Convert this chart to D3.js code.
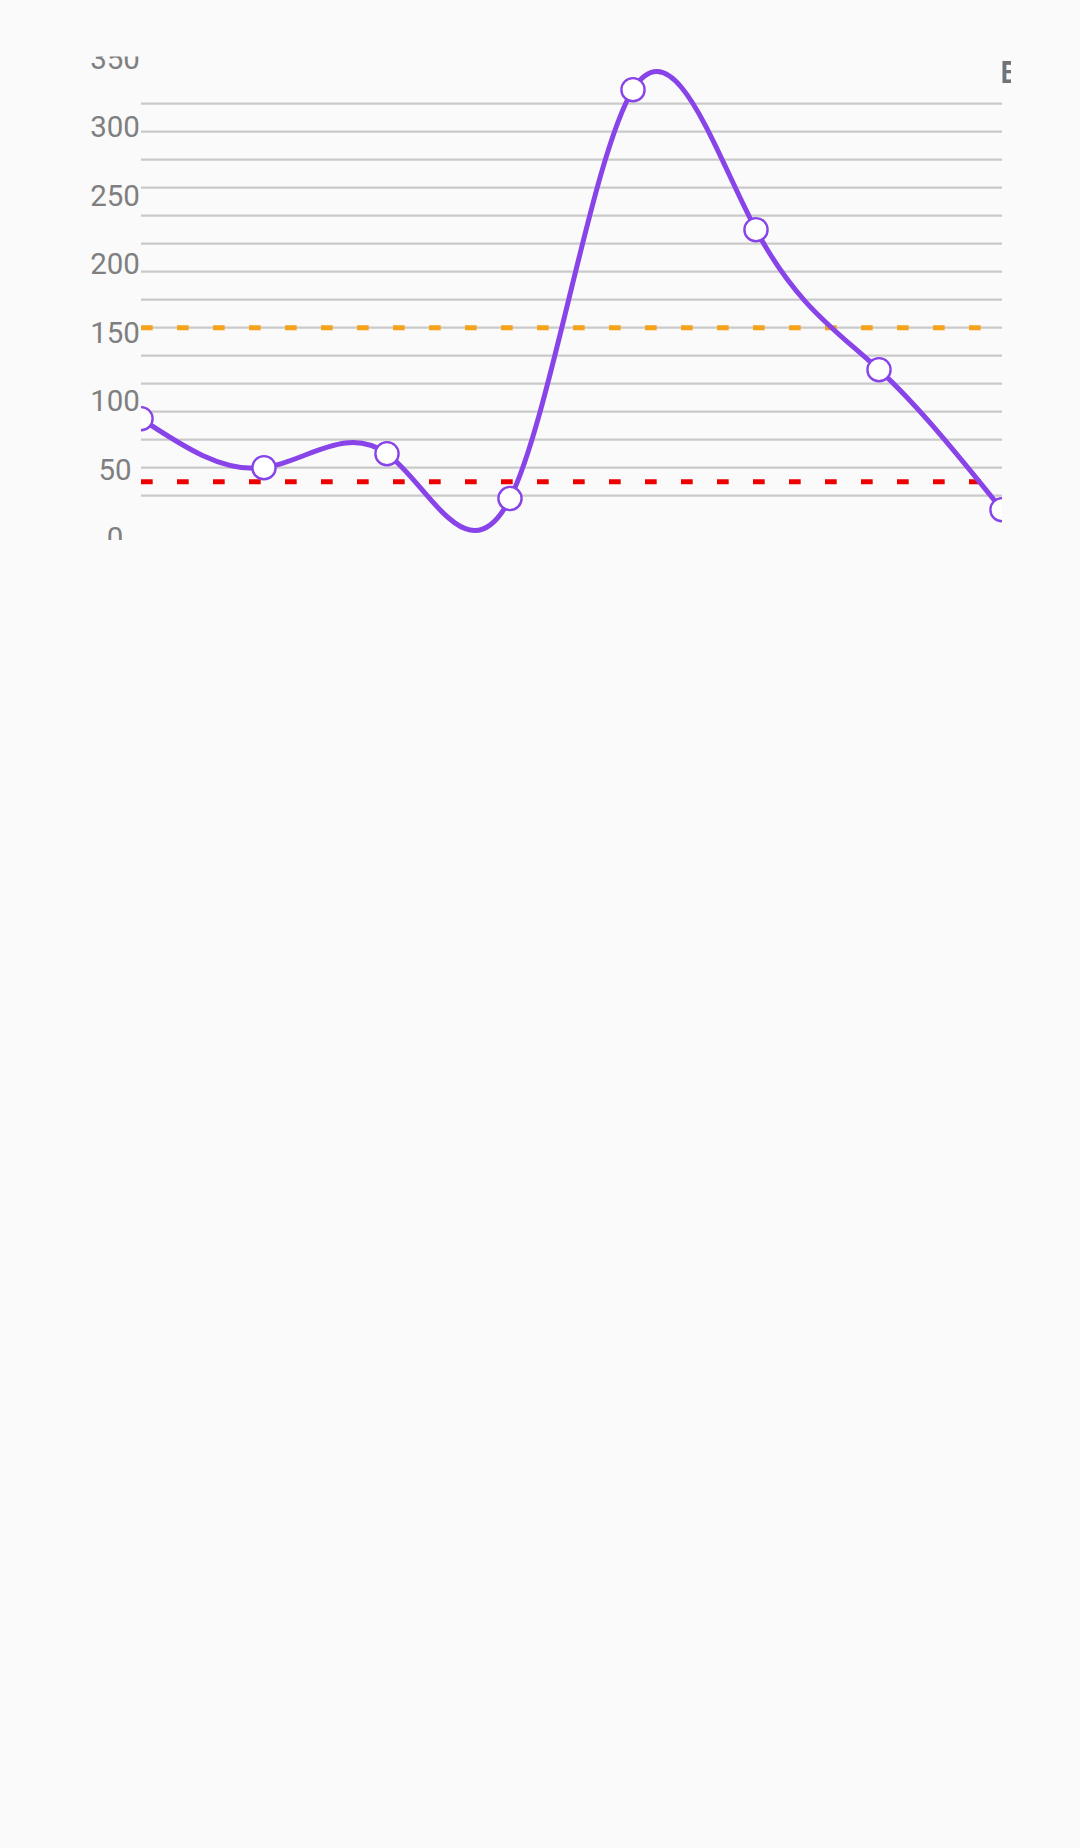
<!DOCTYPE html>
<html>
<head>
<meta charset="utf-8">
<script src="https://cdn.jsdelivr.net/npm/d3@7"></script>
<style>
  html, body { margin: 0; padding: 0; background: #fafafa; }
  svg { display: block; }
</style>
</head>
<body>
<svg id="chart"></svg>
<script>
// chart data
const categories = ["P1", "P2", "P3", "P4", "P5", "P6", "P7", "P8"];
const values = [55, 20, 30, -2, 290, 190, 90, -10];
const leftTicks = [0, 50, 100, 150, 200, 250, 300, 350];
const gridTicks = [0, 20, 40, 60, 80, 100, 120, 140, 160, 180, 200, 220, 240, 260, 280];
const limitValues = [120, 10];
const limitColors = ["#f5a41a", "#ee0000"];
const cornerLabel = ["B"];

//Setting svg element
const width = 1080;
const height = 1848;
const svg = d3.select("#chart").attr("width", width).attr("height", height);

const defs = svg.append("defs");
defs.append("clipPath").attr("id", "view")
  .append("rect").attr("x", 0).attr("y", 56.5).attr("width", 1011).attr("height", 483.5);
defs.append("clipPath").attr("id", "plot")
  .append("rect").attr("x", 141).attr("y", 0).attr("width", 861).attr("height", height);
defs.append("clipPath").attr("id", "cornerClip")
  .append("rect").attr("x", 1002.5).attr("y", 50).attr("width", 8.5).attr("height", 40);

const xScale = d3.scalePoint().domain(categories).range([141, 1002]).padding(0);
// left labels and the grid do not share the same spacing in the picture
const yLabel = d3.scaleLinear().domain([0, 350]).range([537.7, 58.2]);
const yGrid = d3.scaleLinear().domain([0, 280]).range([495.7, 103.7]);

const view = svg.append("g").attr("clip-path", "url(#view)");

//grid lines
view.append("g").selectAll("line").data(gridTicks).enter().append("line")
  .attr("x1", 141).attr("x2", 1002)
  .attr("y1", d => yGrid(d)).attr("y2", d => yGrid(d))
  .attr("stroke", "#cacaca").attr("stroke-width", 2.2);

//left axis labels
const fs = 29.5;
view.append("g").selectAll("text").data(leftTicks).enter().append("text")
  .attr("x", 115).attr("y", d => yLabel(d) + fs * 0.355)
  .attr("text-anchor", "middle")
  .attr("font-family", "Roboto, sans-serif").attr("font-size", fs)
  .attr("fill", "#7f7f7f")
  .text(d => d);

//clipped label on the right
svg.append("g").attr("clip-path", "url(#cornerClip)")
  .selectAll("text").data(cornerLabel).enter().append("text")
  .attr("x", 999.5).attr("y", 83)
  .attr("font-family", "Roboto, sans-serif").attr("font-size", 32)
  .attr("font-weight", "bold")
  .attr("fill", "#737373")
  .text(d => d);

const plot = view.append("g").attr("clip-path", "url(#plot)");

//limit lines
plot.append("g").selectAll("line").data(limitValues).enter().append("line")
  .attr("x1", 141).attr("x2", 1002)
  .attr("y1", d => yGrid(d)).attr("y2", d => yGrid(d))
  .attr("stroke", (d, i) => limitColors[i]).attr("stroke-width", 5)
  .attr("stroke-dasharray", "11.7 24.3");

//line
const line = d3.line()
  .x((d, i) => xScale(categories[i]))
  .y(d => yGrid(d))
  .curve(d3.curveNatural);

plot.append("path").datum(values)
  .attr("d", line)
  .attr("fill", "none").attr("stroke", "#8844e8").attr("stroke-width", 5)
  .attr("stroke-linejoin", "round");

//points
plot.append("g").selectAll("circle").data(values).enter().append("circle")
  .attr("cx", (d, i) => xScale(categories[i]))
  .attr("cy", d => yGrid(d))
  .attr("r", 11.6)
  .attr("fill", "#ffffff").attr("stroke", "#8844e8").attr("stroke-width", 2.4);
</script>
</body>
</html>
